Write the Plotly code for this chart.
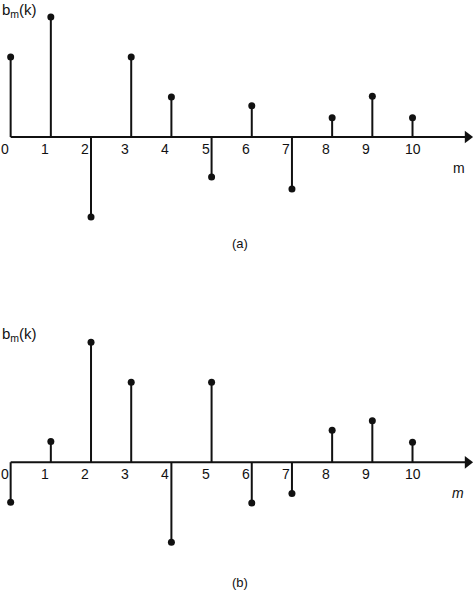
from plotly.subplots import make_subplots
import plotly.graph_objects as go

# sample index m and coefficients b_m(k) for the two cases
m_vals = [0, 1, 2, 3, 4, 5, 6, 7, 8, 9, 10]
b_a = [1.0, 1.5, -1.0, 1.0, 0.5, -0.5, 0.39, -0.65, 0.24, 0.51, 0.24]
b_b = [-0.5, 0.26, 1.5, 1.0, -1.0, 1.0, -0.51, -0.39, 0.4, 0.52, 0.25]
tick_labels = ["0", "1", "2", "3", "4", "5", "6", "7", "8", "9", "10"]
axis_end = 11.37

W, H = 474, 591
FONT = "Liberation Sans, Arial, sans-serif"
BLACK = "#111111"


def add_stems(fig_, vals, row_):
    xs, ys = [], []
    for m, v in zip(m_vals, vals):
        xs += [m, m, None]
        ys += [0, v, None]
    fig_.add_trace(go.Scatter(x=xs, y=ys, mode="lines",
                              line={"color": BLACK, "width": 2},
                              hoverinfo="skip"), row=row_, col=1)
    fig_.add_trace(go.Scatter(x=m_vals, y=vals, mode="markers",
                              marker={"color": BLACK, "size": 7}),
                   row=row_, col=1)


def add_axis_arrow(fig_, row_):
    # horizontal m axis with a filled arrow head at its end
    fig_.add_trace(go.Scatter(x=[m_vals[0], axis_end], y=[0, 0],
                              mode="lines", line={"color": BLACK, "width": 2},
                              hoverinfo="skip"), row=row_, col=1)
    fig_.add_trace(go.Scatter(x=[axis_end], y=[0], mode="markers",
                              marker={"symbol": "triangle-right", "size": 11,
                                      "color": BLACK},
                              hoverinfo="skip"), row=row_, col=1)


def add_tick_labels(fig_, xref, yref):
    for m, lab in zip(m_vals, tick_labels):
        fig_.add_annotation(x=m, y=0, xref=xref, yref=yref, text=lab,
                            showarrow=False, yanchor="top", yshift=-2,
                            xshift=0 if lab == "10" else -6,
                            font={"family": FONT, "size": 14, "color": BLACK})


def add_text(fig_, px, py, txt, size=14, xanchor="center", italic=False):
    fig_.add_annotation(x=px / W, y=1 - py / H, xref="paper", yref="paper",
                        text=txt, showarrow=False, xanchor=xanchor,
                        yanchor="middle",
                        font={"family": FONT, "size": size, "color": BLACK,
                              "style": "italic" if italic else "normal"})


fig = make_subplots(rows=2, cols=1, vertical_spacing=0)
add_axis_arrow(fig, 1)
add_axis_arrow(fig, 2)
add_stems(fig, b_a, 1)
add_stems(fig, b_b, 2)

add_tick_labels(fig, "x", "y")
add_tick_labels(fig, "x2", "y2")

add_text(fig, 0, 11, "b<sub>m</sub>(k)", size=15, xanchor="left")
add_text(fig, 459, 168, "m")
add_text(fig, 240, 243, "(a)", size=13)
add_text(fig, 0, 334, "b<sub>m</sub>(k)", size=15, xanchor="left")
add_text(fig, 458, 493, "m", italic=True)
add_text(fig, 240, 582, "(b)", size=13)

fig.update_xaxes(range=[-0.265, 11.53], visible=False, fixedrange=True)
fig.update_yaxes(visible=False, fixedrange=True)
fig.update_yaxes(range=[-1.981, 1.7125], row=1, col=1)
fig.update_yaxes(range=[-1.609, 2.085], row=2, col=1)

fig.update_layout(width=W, height=H, margin={"l": 0, "r": 0, "t": 0, "b": 0},
                  showlegend=False, plot_bgcolor="white",
                  paper_bgcolor="white")

# drop the page's default body margin so the figure sits at the window corner
fig.write_html("out.html", config={"displayModeBar": False},
               post_script="document.body.style.margin='0';")
